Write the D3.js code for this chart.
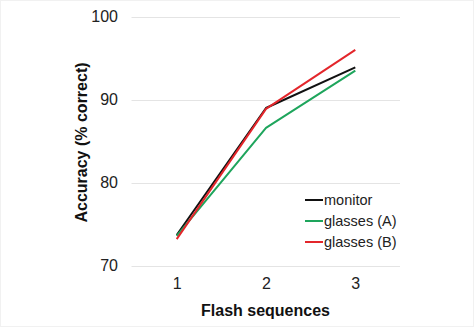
<!DOCTYPE html>
<html>
<head>
<meta charset="utf-8">
<script src="https://cdn.jsdelivr.net/npm/d3@7"></script>
<style>
  html, body { margin: 0; padding: 0; background: #fff; }
  svg { display: block; font-family: "Liberation Sans", Arial, sans-serif; }
</style>
</head>
<body>
<svg id="chart" width="474" height="329"></svg>
<script>
// Accuracy by number of flash sequences
const flashSequences = [1, 2, 3];
const monitor  = [73.7, 89.0, 93.9];
const glassesA = [73.6, 86.6, 93.5];
const glassesB = [73.2, 88.9, 96.0];
const yTicks = [70, 80, 90, 100];

const seriesNames  = ["monitor", "glasses (A)", "glasses (B)"];
const seriesColors = ["#111111", "#1ea55c", "#e3262b"];
const seriesValues = [monitor, glassesA, glassesB];

const svg = d3.select("#chart");

// faint outer frame
svg.append("rect")
  .attr("x", 0.5).attr("y", 0.5)
  .attr("width", 473).attr("height", 326)
  .attr("fill", "none").attr("stroke", "#f1f1f1");

const x = d3.scalePoint().domain(flashSequences).range([176.7, 355.3]);
const y = d3.scaleLinear().domain([70, 100]).range([265.7, 16.7]);

// horizontal gridlines
svg.append("g")
  .selectAll("line")
  .data(yTicks)
  .join("line")
  .attr("x1", 131.5).attr("x2", 400)
  .attr("y1", d => Math.round(y(d)) + 0.5)
  .attr("y2", d => Math.round(y(d)) + 0.5)
  .attr("stroke", "#e4e4e4").attr("stroke-width", 1);

// y axis labels
const yAxis = svg.append("g")
  .attr("transform", "translate(118,0)")
  .call(d3.axisLeft(y).tickValues(yTicks).tickSize(0).tickPadding(0));
yAxis.select(".domain").remove();
yAxis.selectAll("text")
  .attr("font-size", 16).attr("fill", "#222")
  .attr("font-family", "'Liberation Sans', Arial, sans-serif");

// x axis labels
const xAxis = svg.append("g")
  .attr("transform", "translate(0,278)")
  .call(d3.axisBottom(x).tickSize(0).tickPadding(0));
xAxis.select(".domain").remove();
xAxis.selectAll("text")
  .attr("font-size", 16).attr("fill", "#222")
  .attr("font-family", "'Liberation Sans', Arial, sans-serif");

// axis titles
svg.append("text")
  .attr("x", 265.5).attr("y", 316)
  .attr("text-anchor", "middle")
  .attr("font-size", 16).attr("font-weight", "bold").attr("fill", "#111")
  .text("Flash sequences");

svg.append("text")
  .attr("transform", "translate(87,142.5) rotate(-90)")
  .attr("text-anchor", "middle")
  .attr("font-size", 16).attr("font-weight", "bold").attr("fill", "#111")
  .text("Accuracy (% correct)");

// series lines
const line = d3.line()
  .x((d, i) => x(flashSequences[i]))
  .y(d => y(d));

svg.append("g")
  .selectAll("path")
  .data(seriesValues)
  .join("path")
  .attr("d", d => line(d))
  .attr("fill", "none")
  .attr("stroke", (d, i) => seriesColors[i])
  .attr("stroke-width", 2)
  .attr("stroke-linejoin", "round");

// legend
const legend = svg.append("g");
const rows = legend.selectAll("g")
  .data(seriesNames)
  .join("g")
  .attr("transform", (d, i) => `translate(305,${200 + i * 21})`);
rows.append("line")
  .attr("x1", 0).attr("x2", 18)
  .attr("stroke", (d, i) => seriesColors[i])
  .attr("stroke-width", 2);
rows.append("text")
  .attr("x", 19).attr("dy", "0.35em")
  .attr("font-size", 14.5).attr("fill", "#222")
  .text(d => d);
</script>
</body>
</html>
